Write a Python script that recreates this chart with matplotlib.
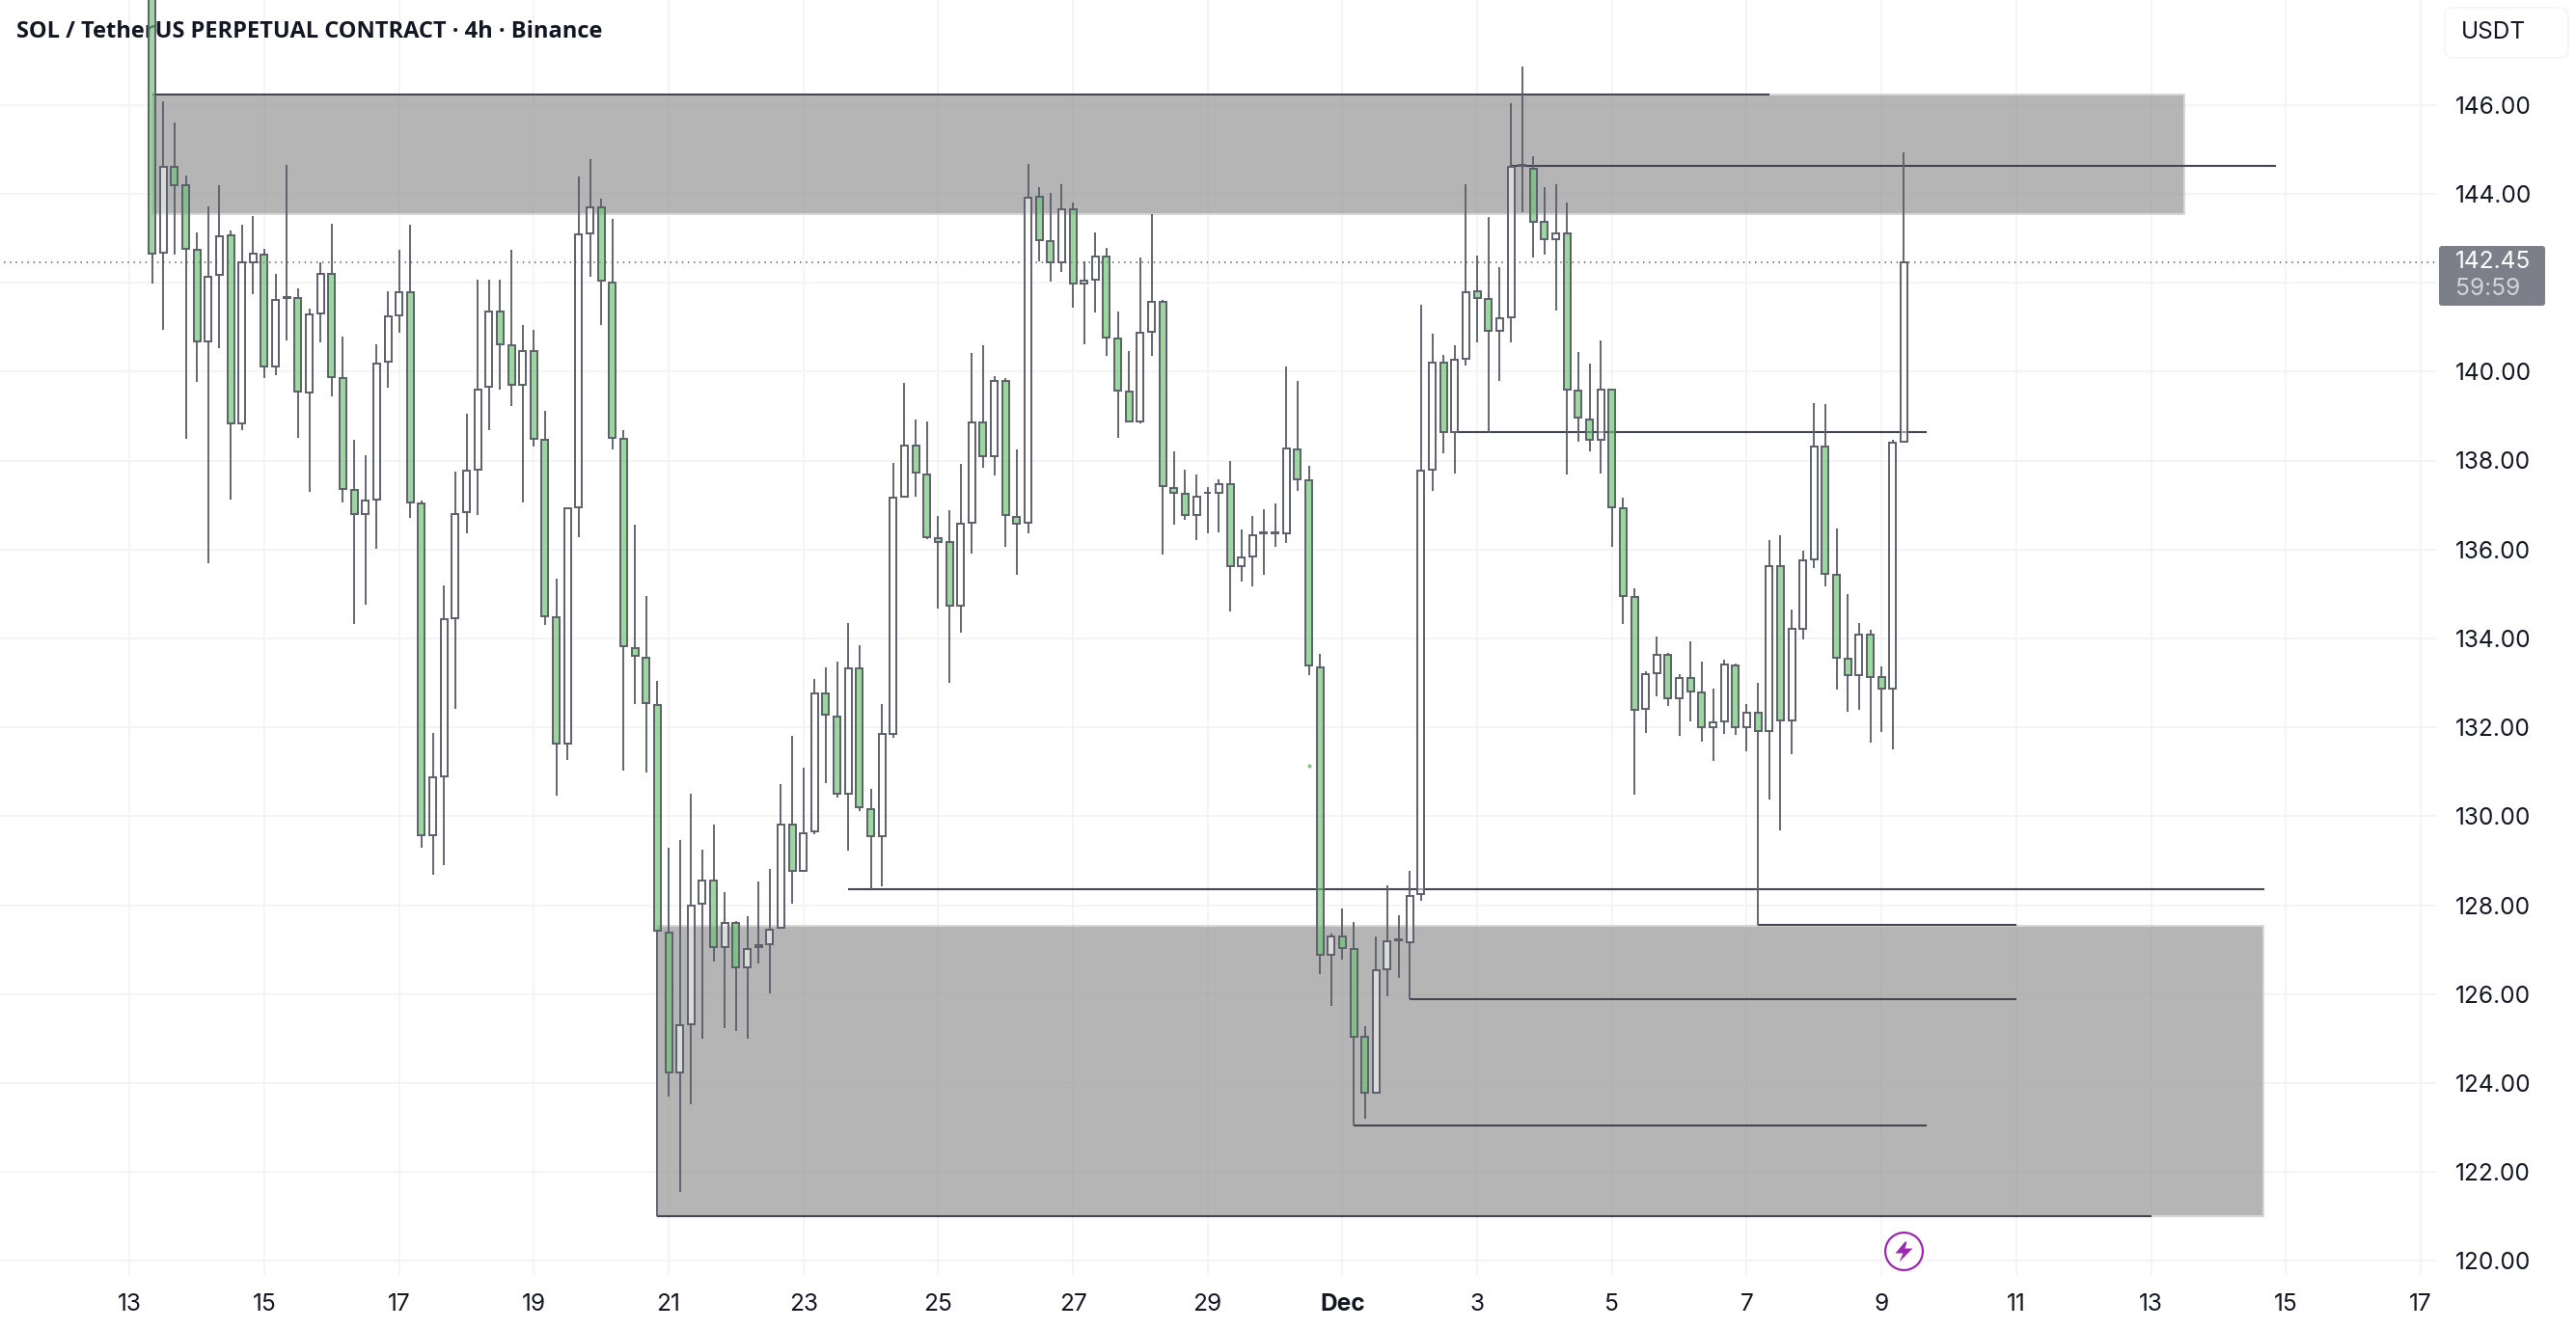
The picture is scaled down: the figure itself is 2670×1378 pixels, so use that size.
import matplotlib
matplotlib.use("Agg")
import matplotlib.pyplot as plt
from matplotlib.patches import Rectangle, FancyBboxPatch
from matplotlib.path import Path

# ---- data: 4h bars, bar 0 = 13 Nov 00:00, first drawn bar = 2 ----
first_bar = 2
highs = [150.5,146.08,145.60,144.41,143.12,143.71,144.19,143.17,143.31,143.49,
 142.76,142.20,144.65,141.88,141.41,142.45,143.32,140.78,138.46,138.12,
 140.62,141.81,142.73,143.31,137.10,131.87,135.19,137.75,139.05,142.07,
 142.07,142.07,142.74,141.04,140.95,139.11,135.35,136.95,144.38,144.78,
 143.90,143.43,138.69,136.55,134.95,133.04,129.28,129.46,130.51,129.25,
 129.82,128.30,127.65,127.76,128.54,128.81,130.72,131.81,131.10,133.09,
 133.34,133.48,134.34,133.85,130.62,132.53,137.94,139.75,138.92,138.88,
 136.75,136.89,137.92,140.42,140.60,139.90,139.86,138.26,144.68,144.14,
 144.02,144.21,143.81,142.47,143.13,142.78,141.36,140.46,142.56,143.55,
 141.62,138.20,137.80,137.68,137.41,137.58,137.98,136.44,136.76,136.91,
 137.03,140.12,139.79,137.87,133.65,127.36,127.92,127.63,125.27,127.30,
 128.45,127.78,128.76,141.50,140.85,140.37,140.60,144.21,142.62,143.48,
 142.35,146.04,146.86,144.84,144.14,144.21,143.80,140.43,140.19,140.71,
 139.62,137.16,135.13,133.27,134.05,133.67,133.20,133.93,133.47,132.86,
 133.51,133.44,132.52,132.99,136.20,136.31,134.64,135.97,139.28,139.26,
 136.47,134.99,134.34,134.20,133.37,138.46,144.92]
tops = [150.0,144.60,144.60,144.20,142.74,142.13,143.04,143.07,142.45,142.66,
 142.64,141.62,141.68,141.66,141.29,142.20,142.20,139.86,137.34,137.11,
 140.19,141.25,141.79,141.79,137.04,130.88,134.44,136.80,137.78,139.60,
 141.36,141.36,140.60,140.47,140.47,138.47,134.47,136.92,143.08,143.70,
 143.70,142.01,138.48,133.79,133.56,132.51,127.39,125.29,128.00,128.55,
 128.55,127.60,127.60,127.02,127.10,127.45,129.81,129.81,129.62,132.77,
 132.77,132.24,133.32,133.32,130.16,131.86,137.16,138.34,138.34,137.68,
 136.25,136.16,136.57,138.86,138.86,139.80,139.80,136.73,143.91,143.93,
 142.93,143.65,143.65,142.05,142.59,142.59,140.74,139.55,140.88,141.56,
 141.56,137.39,137.25,137.19,137.28,137.47,137.47,135.82,136.32,136.39,
 136.39,138.27,138.25,137.56,133.35,127.29,127.29,127.01,125.03,126.54,
 127.18,127.22,128.21,137.78,140.21,140.21,140.27,141.79,141.81,141.64,
 141.20,144.61,144.64,144.56,143.37,143.11,143.11,139.57,138.92,139.60,
 139.60,136.93,134.93,133.19,133.62,133.62,133.10,133.10,132.78,132.11,
 133.41,133.40,132.33,132.33,135.62,135.62,134.22,135.76,138.32,138.32,
 135.43,133.54,134.09,134.09,133.12,138.40,142.45]
bottoms = [142.65,142.67,144.20,142.77,140.68,140.68,142.18,138.83,138.83,142.45,
 140.12,140.12,141.65,139.55,139.54,141.31,139.88,137.36,136.80,136.80,
 137.12,140.23,141.26,137.06,129.57,129.57,130.90,134.45,136.84,137.80,
 139.65,140.61,139.71,139.71,138.49,134.50,131.64,131.64,136.95,143.11,
 142.04,138.51,133.83,133.60,132.55,127.42,124.24,124.24,125.32,128.03,
 127.06,127.06,126.61,126.61,127.06,127.12,127.49,128.78,128.78,129.67,
 132.29,130.51,130.51,130.21,129.55,129.55,131.86,137.19,137.73,136.28,
 136.17,134.74,134.74,136.60,138.10,138.10,136.78,136.58,136.60,142.96,
 142.46,142.46,141.98,141.98,142.07,140.77,139.57,138.88,138.87,140.90,
 137.43,137.27,136.77,136.77,137.27,137.28,135.63,135.63,135.85,136.37,
 136.37,136.36,137.58,133.38,126.89,126.89,127.03,125.04,123.79,123.79,
 126.56,127.20,127.17,128.24,137.80,138.64,138.64,140.29,141.65,140.91,
 140.91,141.22,144.62,143.37,142.98,142.98,139.59,138.96,138.47,138.47,
 136.94,134.95,132.39,132.42,133.22,132.65,132.65,132.80,132.00,132.00,
 132.13,132.01,132.01,131.91,131.91,132.15,132.15,134.22,135.77,135.45,
 133.57,133.17,133.17,133.13,132.86,132.86,138.42]
lows = [141.97,140.95,142.63,138.48,139.77,135.70,140.52,137.13,138.68,141.75,
 139.86,139.91,140.71,138.52,137.29,140.65,139.45,137.05,134.32,134.76,
 136.02,139.63,140.87,136.70,129.30,128.69,128.91,132.41,136.37,136.77,
 138.68,139.59,139.22,137.05,138.31,134.31,130.46,131.26,136.27,142.14,
 141.04,138.24,131.03,132.53,130.99,121.01,123.70,121.55,123.51,125.00,
 126.74,125.23,125.18,125.00,126.69,126.01,127.49,128.03,128.74,129.60,
 130.75,130.41,129.22,130.11,128.35,128.42,131.77,137.19,137.18,136.24,
 134.66,133.01,134.12,135.90,137.84,137.67,136.06,135.42,136.37,142.47,
 142.02,142.23,141.43,140.62,141.34,140.35,138.50,138.88,138.84,140.35,
 135.89,136.55,136.66,136.22,136.36,136.39,134.61,135.27,135.18,135.44,
 136.05,136.14,137.32,133.17,126.45,125.73,126.77,123.04,123.19,123.75,
 125.96,126.36,125.89,128.09,137.32,138.17,137.71,140.14,140.66,138.61,
 139.80,140.66,143.59,142.57,142.64,141.38,137.69,138.43,138.21,137.71,
 136.05,134.33,130.49,131.88,132.70,132.47,131.80,132.13,131.67,131.24,
 131.85,131.83,131.47,127.55,130.38,129.69,131.40,133.98,135.59,135.16,
 132.85,132.36,132.40,131.65,131.90,131.51,138.40]
is_green = [1,0,1,1,1,0,0,1,0,0,
 1,0,0,1,0,0,1,1,1,0,
 0,0,0,1,1,0,0,0,0,0,
 0,1,1,0,1,1,1,0,0,0,
 1,1,1,1,1,1,1,0,0,0,
 1,0,1,0,0,0,0,1,0,0,
 1,1,0,1,1,0,0,0,1,1,
 1,1,0,0,1,0,1,1,0,1,
 1,0,1,0,0,1,1,1,0,0,
 1,1,1,0,0,0,1,0,0,0,
 0,0,1,1,1,0,1,1,1,0,
 0,0,0,0,0,1,0,0,1,1,
 0,0,0,1,1,0,1,1,1,0,
 1,1,1,0,0,1,0,1,1,0,
 0,1,0,1,0,1,0,0,0,1,
 1,1,0,1,1,0,0]

# price zones: (start bar, end bar, top price, bottom price)
zone_starts = [2, 47]
zone_ends = [183, 190]
zone_tops = [146.23, 127.53]
zone_bottoms = [143.54, 121.01]

# level lines: start bar, end bar, price
level_starts = [2, 123, 118, 64, 145, 114, 109, 47]
level_ends = [146, 191.1, 160, 190.1, 168, 168, 160, 180]
level_prices = [146.23, 144.63, 138.64, 128.35, 127.55, 125.89, 123.04, 121.01]

last_price = 142.45
countdown = "59:59"
title = "SOL / TetherUS PERPETUAL CONTRACT · 4h · Binance"
currency = "USDT"
x_tick_bars = list(range(0, 205, 12))
x_tick_labels = ["13","15","17","19","21","23","25","27","29","Dec","3","5","7","9","11","13","15","17"]
y_ticks = list(range(120, 148, 2))
y_hidden_label = 142  # covered by the last-price box

# ---- styling ----
W, H = 2670, 1378
plt.rcParams['font.family'] = ['Inter', 'DejaVu Sans']
EDGE = '#5d606b'
LINE = '#434651'
TXT = '#131722'
GREEN = (105/255, 195/255, 112/255, 0.667)
WHITE = (1, 1, 1, 0.5)
TICK_SIZE = 17.6

fig = plt.figure(figsize=(W/100, H/100), dpi=100, facecolor='white')
ax_right, ax_bottom = 2526, 1322
ax = fig.add_axes([0, 1 - ax_bottom/H, ax_right/W, ax_bottom/H])
ax.set_xlim(-134.3/11.64, (ax_right-134.3)/11.64)
ax.set_ylim(146-(ax_bottom-108.7)/46.1, 146+108.7/46.1)
for s in ax.spines.values():
    s.set_visible(False)
ax.set_axisbelow(True)
ax.grid(True, color='#f2f2f3', lw=1.2, zorder=0)
ax.set_xticks(x_tick_bars)
ax.set_xticklabels(x_tick_labels)
ax.set_yticks(y_ticks)
ax.set_yticklabels(["" if v == y_hidden_label else f"{v:.2f}" for v in y_ticks])
ax.yaxis.tick_right()
ax.tick_params(axis='both', length=0, labelsize=TICK_SIZE, labelcolor=TXT)
ax.tick_params(axis='y', pad=13.5)
ax.tick_params(axis='x', pad=14)
for lab in ax.get_xticklabels():
    if lab.get_text() == 'Dec':
        lab.set_fontweight('bold')

# zones
for xs, xe, t, b in zip(zone_starts, zone_ends, zone_tops, zone_bottoms):
    ax.add_patch(Rectangle((xs, b), xe-xs, t-b, facecolor=(150/255, 150/255, 150/255, 0.7),
                           edgecolor='#d6d6d6', lw=1.4, zorder=1))
# levels
ax.hlines(level_prices, level_starts, level_ends, color=LINE, lw=1.5, zorder=2)
# last price line
ax.plot([0-11.2, ax.get_xlim()[1]+0.2], [last_price, last_price], color=EDGE, lw=1.1,
        linestyle=(0, (1, 3)), zorder=2, clip_on=False)

# candles
bars = [first_bar + i for i in range(len(highs))]
ax.vlines(bars, tops, highs, color=EDGE, lw=1.35, zorder=3)
ax.vlines(bars, lows, bottoms, color=EDGE, lw=1.35, zorder=3)
ax.bar(bars, [t-b for t, b in zip(tops, bottoms)], bottom=bottoms, width=0.6,
       color=[GREEN if g else WHITE for g in is_green], edgecolor=EDGE, linewidth=1.4, zorder=4)

# stray point and bolt marker
ax.plot([105], [131.13], marker='o', ms=3, color='#86c38a', mew=0, zorder=3)
ax.plot([158], [120.23], marker='o', ms=28, mfc='white', mec='#9c27b0', mew=1.6, zorder=5)
bolt = Path([(1, 10), (-9, -2), (-1, -2), (-5, -11), (9, 3), (1, 3), (3, 10), (1, 10)], closed=True)
ax.plot([158], [120.23], marker=bolt, ms=15.8, mfc='#9c27b0', mec='none', zorder=6)

# overlay in pixel coordinates for interface elements
ov = fig.add_axes([0, 0, 1, 1], zorder=10)
ov.set_xlim(0, W)
ov.set_ylim(H, 0)
ov.axis('off')
ov.patch.set_alpha(0)

ax.text(17, 33, title, transform=ov.transData, fontsize=17, fontweight='bold', family='Open Sans',
        color=TXT, va='center', ha='left', zorder=3.5, clip_on=False)

ov.add_patch(FancyBboxPatch((2534, 8), 128, 52, boxstyle="round,pad=0,rounding_size=9",
                            facecolor='white', edgecolor='#f3f3f5', lw=1))
ov.text(2551, 33.5, currency, fontsize=TICK_SIZE, color=TXT, va='center', ha='left')
ov.add_patch(FancyBboxPatch((2528, 255), 110, 62, boxstyle="round,pad=0,rounding_size=3",
                            facecolor='#7c7f8a', edgecolor='none'))
ov.text(2545, 272, f"{last_price:.2f}", fontsize=TICK_SIZE, color='white', va='center', ha='left')
ov.text(2545, 299, countdown, fontsize=TICK_SIZE, color='#d3d4d8', va='center', ha='left')

fig.savefig('out.png', dpi=100)
